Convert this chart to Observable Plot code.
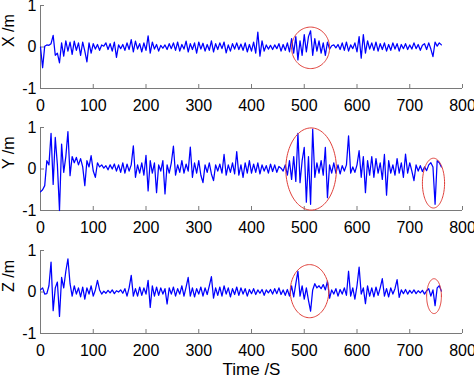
<!DOCTYPE html>
<html><head><meta charset="utf-8">
<script src="https://cdn.jsdelivr.net/npm/d3@7"></script>
<script src="https://cdn.jsdelivr.net/npm/@observablehq/plot@0.6"></script>
<style>body{margin:0;background:#fff}#chart{width:474px}#chart svg{display:block}</style>
</head><body><div id="chart"></div>
<script>
const xTicks = [0, 100, 200, 300, 400, 500, 600, 700, 800];
const yTicks = [-1, 0, 1];
const panelLabels = ["X /m", "Y /m", "Z /m"];
const xAxisLabel = "Time /S";
const sampleStep = 4; // seconds between samples

const seriesX = [
  0, -0.5, 0.02, 0.05, 0.04, 0.08, 0.28, -0.2, -0.15, -0.38,
  0.1, -0.22, 0.15, -0.1, 0.12, -0.18, 0.14, -0.08, 0.1, -0.2,
  0.12, -0.1, -0.36, 0.1, -0.15, 0.08, -0.05, 0.06, -0.08, 0.05,
  0.02, 0.1, -0.06, 0.08, -0.1, 0.12, -0.25, 0.05, -0.04, 0.06,
  -0.08, 0.1, -0.06, 0.18, -0.12, 0.14, -0.05, 0.08, -0.12, 0.1,
  -0.08, 0.27, -0.15, 0.12, -0.05, 0.06, -0.1, 0.04, -0.03, 0.05,
  -0.06, 0.08, -0.04, 0.1, -0.08, 0.12, -0.1, 0.06, -0.05, 0.14,
  -0.12, 0.08, -0.06, 0.1, -0.15, 0.12, -0.05, 0.09, -0.1, 0.06,
  -0.08, 0.15, -0.12, 0.08, -0.06, 0.1, -0.04, 0.12, -0.14, 0.05,
  -0.1, 0.08, -0.05, 0.1, -0.06, 0.07, -0.08, 0.1, -0.12, 0.06,
  -0.1, 0.12, -0.15, 0.36, -0.22, 0.15, -0.1, 0.05, -0.05, 0.04,
  -0.06, 0.05, -0.04, 0.08, -0.1, 0.06, -0.08, 0.1, -0.12, 0.2,
  -0.15, 0.25, -0.31, 0.15, -0.2, 0.3, -0.12, 0.25, 0.39, -0.2,
  0.2, -0.1, 0.15, -0.15, 0.1, -0.2, 0.12, -0.05, 0.03, 0.05,
  -0.02, 0.06, -0.06, 0.1, -0.08, 0.12, -0.1, 0.05, -0.04, 0.1,
  -0.12, 0.25, -0.27, 0.3, -0.15, 0.15, -0.05, 0.1, -0.08, 0.12,
  -0.1, 0.08, -0.06, 0.1, -0.1, 0.06, -0.08, 0.1, -0.05, 0.08,
  -0.1, 0.06, -0.04, 0.08, -0.06, 0.05, -0.05, 0.1, -0.04, 0.06,
  -0.08, 0.04, 0.08, -0.06, 0.1, -0.05, -0.23, 0.12, 0.02, 0.1,
  0.05
];
const seriesY = [
  -0.55, -0.5, -0.4, 0.2, 0.1, 0.86, -0.37, 0.76, 0.1, -1.0,
  0.6, -0.08, 0.3, 0.9, -0.16, 0.3, 0.15, 0.28, 0.1, 0.25,
  0.05, -0.4, 0.2, 0.05, 0.32, -0.05, -0.2, 0.15, 0.05, 0.1,
  0.02, 0.08, -0.02, 0.1, 0, 0.12, -0.05, 0.1, -0.08, 0.15,
  -0.1, 0.12, -0.05, 0.1, 0.56, -0.2, 0.1, -0.1, 0.15, -0.15,
  0.33, -0.53, 0.2, -0.1, 0.15, -0.57, 0.1, -0.05, 0.2, -0.6,
  0.1, -0.1, 0.15, 0.55, -0.15, 0.1, -0.08, 0.2, -0.1, 0.12,
  -0.05, 0.53, -0.2, 0.15, -0.1, 0.2, -0.15, -0.33, 0.1, -0.08,
  0.15, -0.12, -0.28, 0.1, -0.05, 0.12, -0.1, 0.35, -0.15, 0.1,
  -0.08, 0.15, -0.12, 0.42, -0.15, 0.1, -0.2, 0.15, -0.1, 0.2,
  -0.1, 0.12, -0.08, 0.15, -0.12, 0.1, -0.05, 0.08, -0.1, 0.12,
  -0.06, 0.1, -0.08, 0.06, 0.02, -0.05, 0.1, -0.15, 0.2, -0.25,
  0.3, -0.3, 0.86, -0.33, 0.2, 0.52, -0.8, 0.3, -0.85, 0.96,
  -0.2, 0.15, -0.1, 0.2, -0.15, 0.52, -0.69, 0.1, -0.1, 0.15,
  -0.1, 0.1, -0.12, 0.08, -0.05, 0.1, 0.8, -0.1, 0.05, -0.08,
  0.1, 0.44, -0.2, 0.3, -0.57, 0.2, -0.15, 0.3, -0.2, 0.25,
  -0.1, 0.15, -0.25, 0.35, -0.63, 0.2, -0.1, 0.1, -0.15, 0.25,
  -0.1, 0.15, -0.2, 0.36, -0.1, 0.15, -0.05, -0.28, 0.1, -0.05,
  0.08, -0.06, 0.05, -0.04, 0.1, 0.15, 0.05, -0.85, 0.2, 0.15,
  0.05
];
const seriesZ = [
  0.05, 0.1, -0.05, -0.04, 0.15, 0.72, -0.45, 0.1, 0.24, -0.59,
  0.35, 0.1, 0.5, 0.8, 0.2, -0.1, 0.15, -0.05, 0.1, -0.12,
  0.12, -0.17, 0.1, -0.05, 0.15, -0.1, 0.05, 0.28, 0.05, -0.05,
  0.02, -0.03, 0.04, -0.02, 0.05, -0.04, 0.03, 0, 0.05, -0.03,
  0.08, -0.1, 0.1, 0.4, -0.1, 0.08, -0.1, 0.12, -0.08, 0.1,
  -0.05, 0.28, -0.37, 0.15, -0.1, 0.12, -0.08, 0.1, -0.05, 0.08,
  -0.29, 0.1, -0.05, 0.12, -0.1, 0.08, -0.05, 0.15, -0.1, 0.12,
  0.35, -0.1, 0.1, -0.12, 0.08, -0.05, 0.12, -0.1, 0.1, -0.06,
  0.15, 0.37, -0.15, 0.1, -0.08, 0.12, -0.1, 0.15, -0.05, 0.1,
  -0.12, 0.08, -0.06, 0.12, -0.08, 0.1, -0.05, 0.08, -0.1, 0.06,
  -0.04, 0.08, -0.06, 0.05, -0.03, 0.06, -0.08, 0.05, -0.02, 0.06,
  -0.05, 0.08, -0.04, 0.1, -0.06, 0.05, -0.08, 0.06, -0.1, 0.15,
  -0.12, 0.2, 0.5, -0.1, 0.15, -0.17, 0.1, -0.2, -0.46, 0.05,
  0.2, 0.1, 0.15, 0.08, 0.18, 0.05, 0.26, -0.15, 0.05, -0.05,
  0.08, -0.1, 0.06, -0.05, 0.1, -0.08, 0.5, -0.1, 0.1, -0.17,
  0.15, 0.6, -0.05, 0.1, -0.28, 0.15, -0.1, 0.1, -0.12, 0.12,
  -0.08, 0.1, 0.32, -0.1, 0.08, -0.12, 0.1, -0.05, 0.08, 0.3,
  -0.13, 0.05, -0.04, 0.06, -0.05, 0.04, -0.03, 0.05, -0.04, 0.03,
  -0.02, 0.04, -0.05, 0.03, 0.08, -0.1, 0.05, -0.33, 0.1, 0.15,
  0.02
];

// red ellipse annotations (centre and radii in data units)
const ellipsesX = [{cx: 512, cy: -0.02, rx: 36, ry: 0.5}];
const ellipsesY = [{cx: 513, cy: 0, rx: 48, ry: 0.99}, {cx: 745, cy: -0.34, rx: 21, ry: 0.6}];
const ellipsesZ = [{cx: 510, cy: 0.02, rx: 36.5, ry: 0.64}, {cx: 746, cy: -0.1, rx: 14, ry: 0.42}];

const axisColor = "#7a7a7a";
const font = "'Liberation Sans', Arial, Helvetica, sans-serif";

function panel(values, label, ellipses, height, marginBottom, showXLabel) {
  const data = values.map((v, i) => ({t: i * sampleStep, v}));
  const ell = ellipses.flatMap((e, k) => d3.range(0, 97).map(j => {
    const a = j / 96 * 2 * Math.PI;
    return {k, x: e.cx + e.rx * Math.cos(a), y: e.cy + e.ry * Math.sin(a)};
  }));
  return Plot.plot({
    width: 474, height, marginTop: 5, marginBottom, marginLeft: 40, marginRight: 12,
    style: {fontFamily: font, fontSize: "16px", color: "#000", background: "#fff", overflow: "visible"},
    x: {domain: [0, 800]},
    y: {domain: [-1, 1]},
    marks: [
      Plot.axisX({ticks: xTicks, tickSize: 0, tickPadding: 11, tickFormat: d => String(d), label: null, fontSize: 16}),
      Plot.axisY({ticks: yTicks, tickSize: 0, tickPadding: 4, tickFormat: d => String(d), label: null, fontSize: 16}),
      Plot.ruleX([0], {y1: -1, y2: 1, stroke: axisColor}),
      Plot.ruleY([-1], {x1: 0, x2: 800, stroke: axisColor}),
      Plot.ruleX(xTicks, {x: d => d, y1: -1, y2: -1, insetTop: -4, stroke: axisColor}),
      Plot.ruleY(yTicks, {y: d => d, x1: 0, x2: 0, insetRight: -4, stroke: axisColor}),
      Plot.line(data, {x: "t", y: "v", stroke: "#0000ff", strokeWidth: 1.25}),
      Plot.line(ell, {x: "x", y: "y", z: "k", stroke: "#e0403a", strokeWidth: 1}),
      Plot.text([label], {frameAnchor: "left", dx: -32, rotate: -90, fontSize: 16, fill: "#000"}),
      showXLabel ? Plot.text([xAxisLabel], {frameAnchor: "bottom", lineAnchor: "top", dy: 29, fontSize: 17, fill: "#000"}) : null
    ]
  });
}

const root = document.getElementById("chart");
root.append(panel(seriesX, panelLabels[0], ellipsesX, 122, 34, false));
root.append(panel(seriesY, panelLabels[1], ellipsesY, 123, 35, false));
root.append(panel(seriesZ, panelLabels[2], ellipsesZ, 132, 44, true));
</script>
</body></html>
